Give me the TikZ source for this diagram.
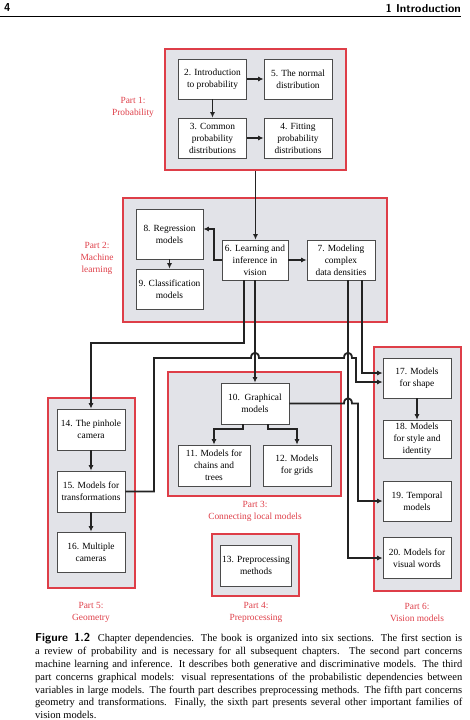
\documentclass[tikz,border=0pt]{standalone}
\usepackage{fontspec}
\setmainfont{Liberation Serif}
\usetikzlibrary{arrows.meta}
\definecolor{partred}{RGB}{222,62,72}
\definecolor{partgray}{RGB}{226,227,232}
\definecolor{boxline}{RGB}{75,75,75}
\definecolor{linkcol}{RGB}{35,35,35}

\begin{document}
\begin{tikzpicture}[x=1pt,y=-1pt,
	chap/.style={draw=boxline,line width=0.7pt,fill=white,minimum width=68pt,minimum height=40pt,align=center,inner sep=2pt,font=\fontsize{9.4}{12}\selectfont},
	part/.style={draw=partred,line width=1.3pt,fill=partgray,inner sep=0pt},
	partlabel/.style={text=partred,align=center,font=\fontsize{9.4}{12}\selectfont},
	link/.style={draw=linkcol,line width=1.8pt,-{Latex[length=5.5pt,width=5pt]}}]
			\useasboundingbox (0,0) rectangle (470,720);
			% page head
			\node[anchor=west,inner sep=0pt,font=\sffamily\bfseries\fontsize{11.5}{13}\selectfont] (pg) at (4,8) {4};
			\node[anchor=east,inner sep=0pt,font=\sffamily\bfseries\fontsize{11.5}{13}\selectfont] (ch) at (461,8) {1 Introduction};
			\draw[line width=0.8pt] (0,16) -- (461,16);
			% parts
			\node[part,minimum width=181pt,minimum height=121pt] (p1) at (255.5,109.5) {};
			\node[part,minimum width=264pt,minimum height=124pt] (p2) at (255,260) {};
			\node[part,minimum width=173pt,minimum height=124pt] (p3) at (254.5,434) {};
			\node[part,minimum width=87pt,minimum height=62pt] (p4) at (255.5,565) {};
			\node[part,minimum width=87pt,minimum height=190pt] (p5) at (91.5,493) {};
			\node[part,minimum width=87pt,minimum height=244pt] (p6) at (417.5,469) {};
			\node[partlabel] (l1) at (133,107) {Part 1:\\Probability};
			\node[partlabel] (l2) at (97,258) {Part 2:\\Machine\\learning};
			\node[partlabel] (l3) at (255,511) {Part 3:\\Connecting local models};
			\node[partlabel] (l4) at (256,612) {Part 4:\\Preprocessing};
			\node[partlabel] (l5) at (91,612) {Part 5:\\Geometry};
			\node[partlabel] (l6) at (417,612) {Part 6:\\Vision models};
			% chapters
			\node[chap] (b2) at (212.5,79) {2. Introduction\\to probability};
			\node[chap] (b5) at (298,79) {5. The normal\\distribution};
			\node[chap] (b3) at (212.5,138) {3. Common\\probability\\distributions};
			\node[chap] (b4) at (298,138) {4. Fitting\\probability\\distributions};
			\node[chap,minimum width=67pt,minimum height=50pt] (b8) at (169.5,234) {8. Regression\\models};
			\node[chap,minimum width=67pt] (b9) at (169.5,289) {9. Classification\\models};
			\node[chap,minimum width=66pt] (b6) at (255,260) {6. Learning and\\inference in\\vision};
			\node[chap] (b7) at (341,260) {7. Modeling\\complex\\data densities};
			\node[chap,minimum height=41pt] (b10) at (255,403.5) {10.\ \ Graphical\\models};
			\node[chap,minimum width=72pt,minimum height=41pt] (b11) at (214,465.5) {11. Models for\\chains and\\trees};
			\node[chap,minimum height=41pt] (b12) at (297,465.5) {12. Models\\for grids};
			\node[chap,minimum width=70pt,minimum height=41pt] (b13) at (256,565.5) {13. Preprocessing\\methods};
			\node[chap,minimum height=41pt] (b14) at (91,429.5) {14. The pinhole\\camera};
			\node[chap,minimum height=41pt] (b15) at (91,491.5) {15. Models for\\transformations};
			\node[chap] (b16) at (91,552) {16. Multiple\\cameras};
			\node[chap] (b17) at (417,378) {17. Models\\for shape};
			\node[chap,minimum height=38pt] (b18) at (417,439) {18. Models\\for style and\\identity};
			\node[chap] (b19) at (417,501) {19. Temporal\\models};
			\node[chap,minimum height=41pt] (b20) at (417,558) {20. Models for\\visual words};
			% dependencies
			\draw[link] (b2) -- (b5);
			\draw[link] (b2) -- (b3);
			\draw[link] (b3) -- (b4);
			\draw[link] (p1.south) -- (p1.south |- b6.north);
			\draw[link] (b6) -- (b7);
			\draw[link] (b6.west) -- ++(-8,0) |- ([yshift=5pt]b8.east);
			\draw[link] (b8) -- (b9);
			\draw[link] ([xshift=-11pt]b6.south) -- ++(0,63) -| (b14.north);
			\draw[link] (b6.south) -- (b10.north);
			\draw[link] ([xshift=-12pt]b10.south) -- ++(0,5) -| (b11.north);
			\draw[link] ([xshift=13pt]b10.south) -- ++(0,5) -| (b12.north);
			\draw[link] (b14) -- (b15);
			\draw[link] (b15) -- (b16);
			\draw[link] (b17) -- (b18);
			\draw[link] ([xshift=21pt]b7.south) |- ([yshift=5pt]b17.west);
			\draw[link] ([xshift=7pt]b7.south) |- (b20.west);
			\draw[link] (b10.east) -- (344,403.5) .. controls (344,396.5) and (352,396.5) .. (352,403.5) -- (358,403.5) |- (b19.west);
			\draw[link] (b15.east) -- (154,491.5) -- (154,358) -- (251,358) .. controls (251,351) and (259,351) .. (259,358) -- (344,358) .. controls (344,351) and (352,351) .. (352,358) -- (356,358) |- ([yshift=-4pt]b17.west);
			% caption
			\node[anchor=north west,text width=427pt,align=justify,inner sep=0pt,font=\fontsize{10.5}{12.9}\selectfont] (cap) at (35,633) {{\sffamily\bfseries\fontsize{11.5}{12.9}\selectfont Figure 1.2}\ \ Chapter dependencies. The book is organized into six sections. The first section is\linebreak a review of probability and is necessary for all subsequent chapters. The second part concerns\linebreak machine learning and inference. It describes both generative and discriminative models. The third\linebreak part concerns graphical models: visual representations of the probabilistic dependencies between\linebreak variables in large models. The fourth part describes preprocessing methods. The fifth part concerns\linebreak geometry and transformations. Finally, the sixth part presents several other important families of\linebreak vision models.};
			\end{tikzpicture}
\end{document}
